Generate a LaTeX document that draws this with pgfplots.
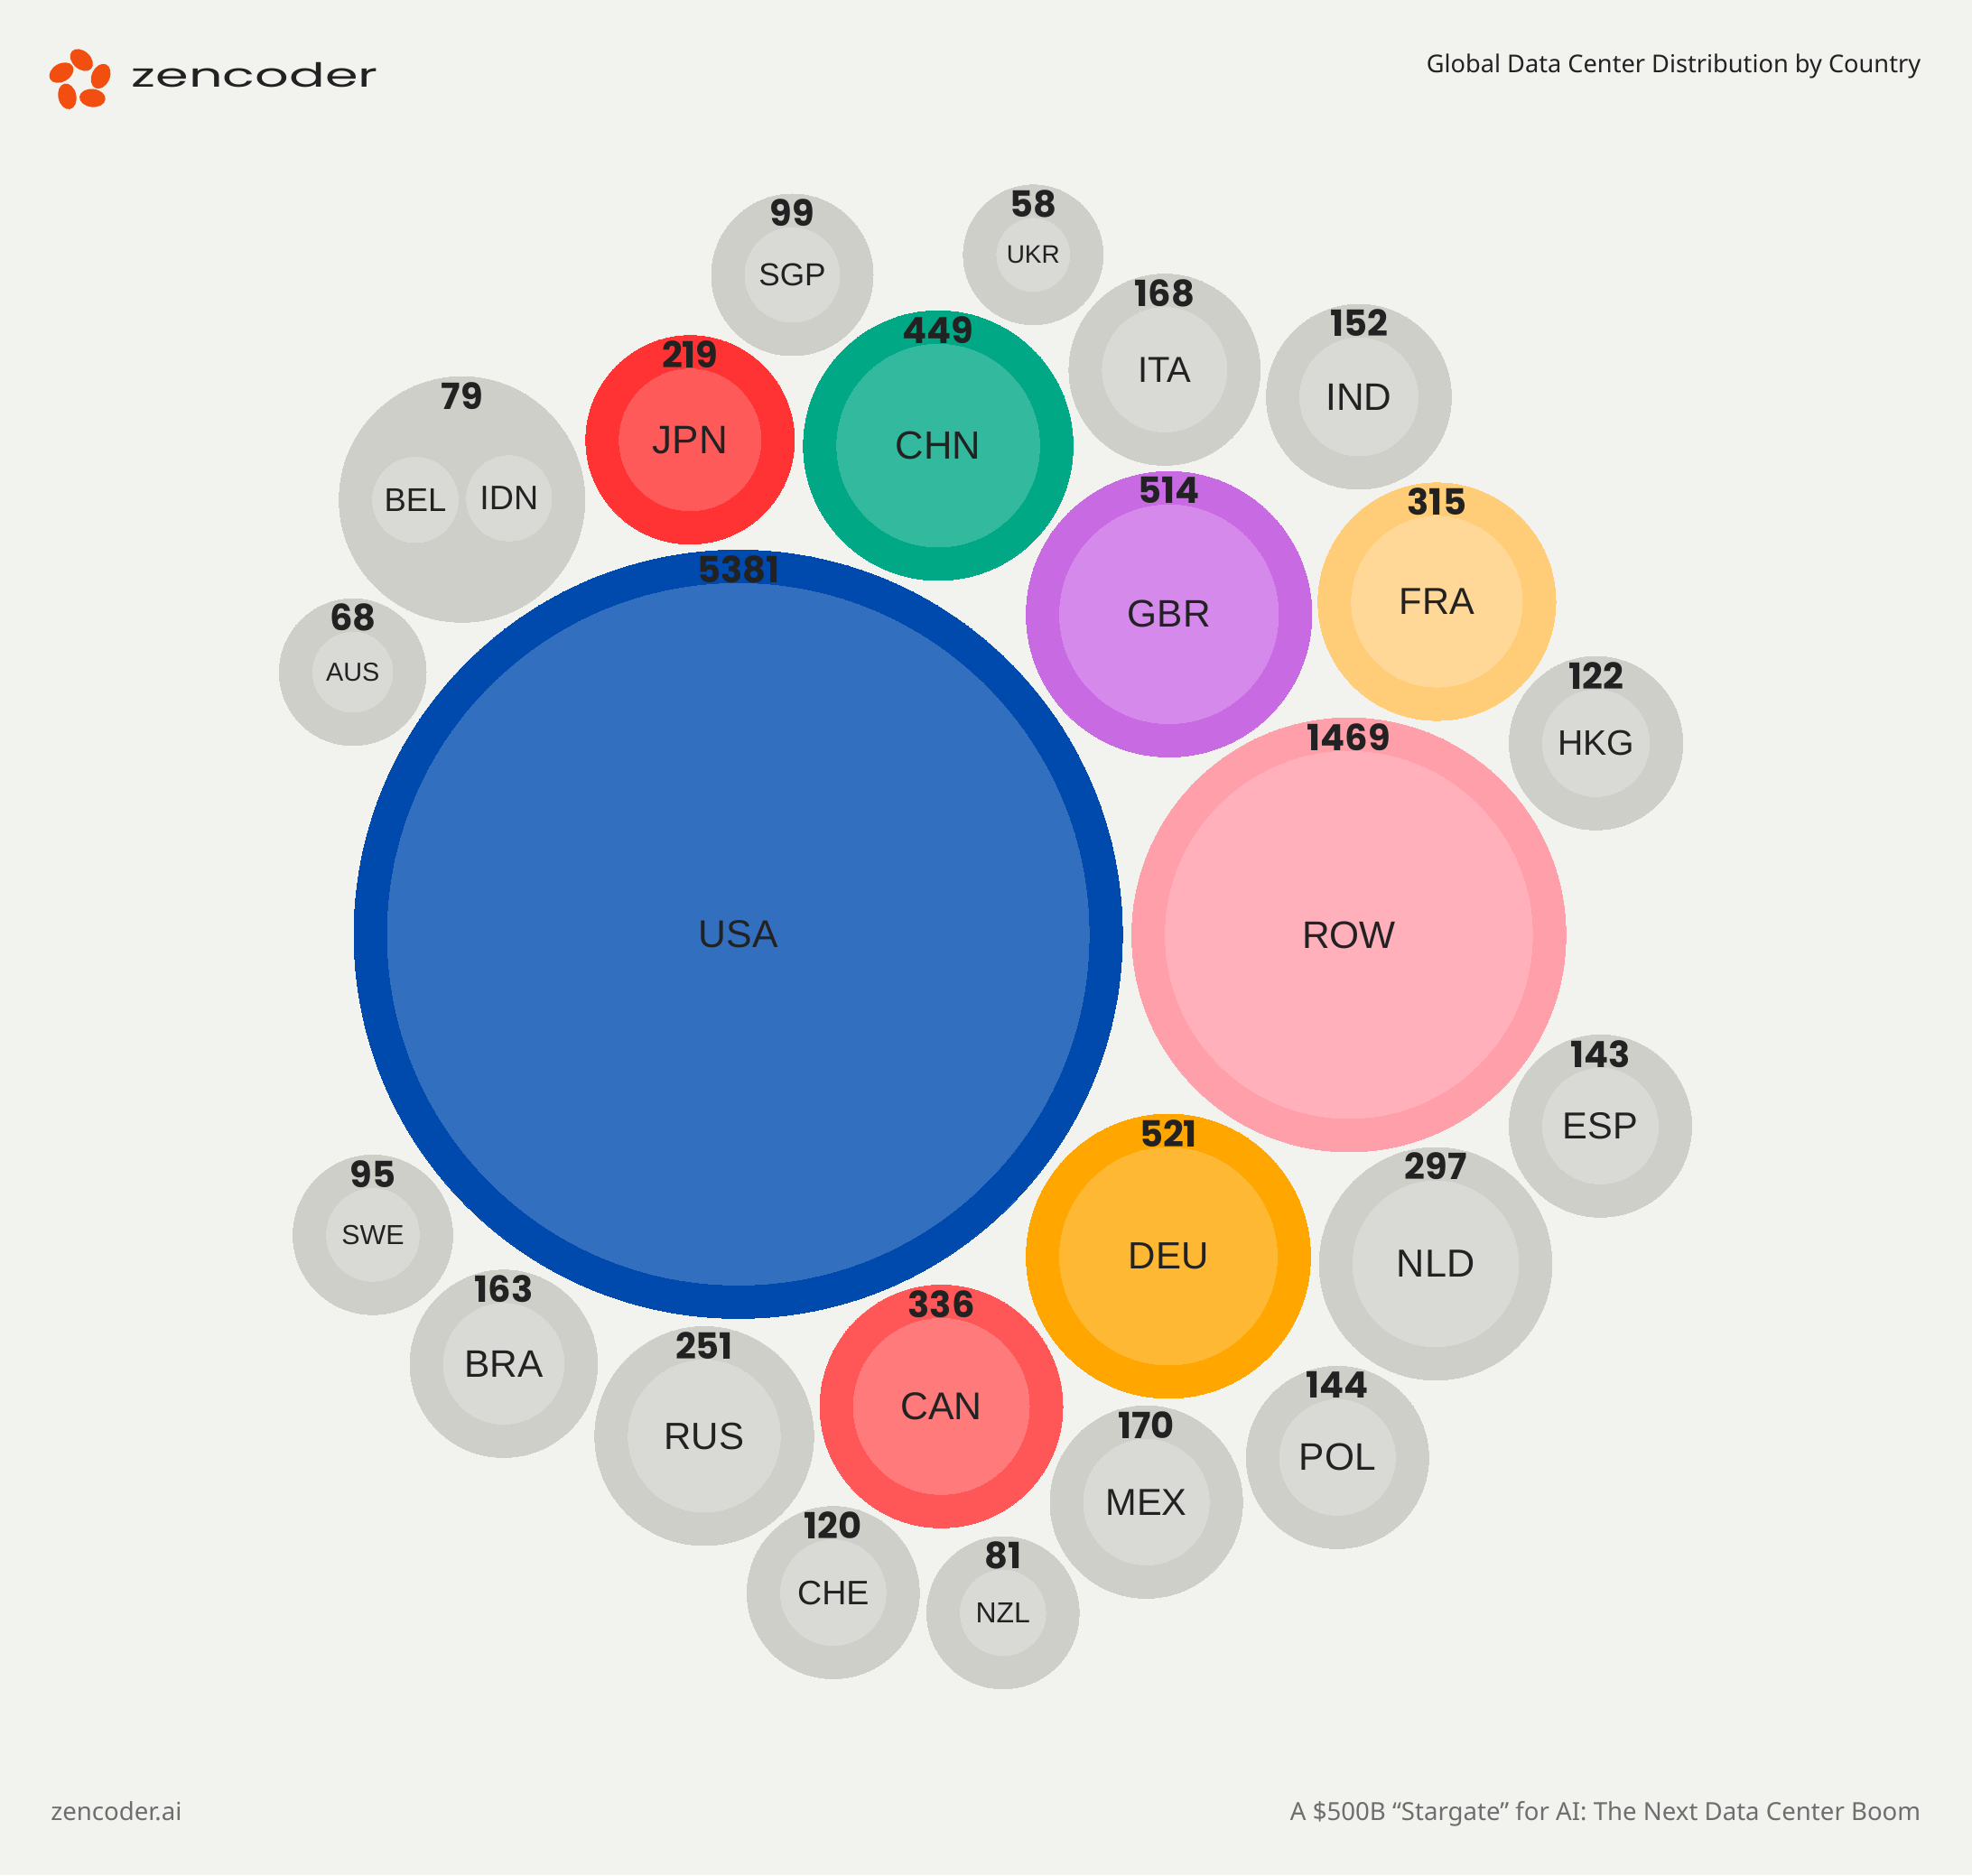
\documentclass[border=0pt]{standalone}
\usepackage{pgfplots}
\pgfplotsset{compat=1.18}
\usepackage{pgfplotstable}
\usepackage{fontspec}
\setmainfont{Noto Sans}
\newfontfamily\labfont{Liberation Sans}
\newfontfamily\numfont{Poppins}
\newfontfamily\logofont{Poppins}

\definecolor{bgc}{HTML}{F2F2EE}
\definecolor{ink}{HTML}{222222}
\definecolor{foot}{HTML}{6E6E6E}
\definecolor{logoc}{HTML}{F24E0F}
\definecolor{greyO}{HTML}{CFCFCA}
\definecolor{greyI}{HTML}{D9D9D5}
\definecolor{usaO}{HTML}{004AAD}
\definecolor{usaI}{HTML}{336FBF}
\definecolor{rowO}{HTML}{FF9FAA}
\definecolor{rowI}{HTML}{FFB0BA}
\definecolor{gbrO}{HTML}{C86BE3}
\definecolor{gbrI}{HTML}{D58AEB}
\definecolor{chnO}{HTML}{00A886}
\definecolor{chnI}{HTML}{33B99D}
\definecolor{jpnO}{HTML}{FF3333}
\definecolor{jpnI}{HTML}{FF5A5A}
\definecolor{fraO}{HTML}{FFCC77}
\definecolor{fraI}{HTML}{FFD898}
\definecolor{deuO}{HTML}{FFA600}
\definecolor{deuI}{HTML}{FFB833}
\definecolor{canO}{HTML}{FF5757}
\definecolor{canI}{HTML}{FF7A7A}

% x, y in pixels from the top-left corner, R = outer radius in pixels,
% fs = size of the country code in pt
\pgfplotstableread{
x      y      R      lab  val  fs
877.5  304.5  89.5   SGP  99   8.8
1144.3 282.3  77.4   UKR  58   7.0
1289.8 409.5  105.9  ITA  168  10.0
1505.0 439.5  102.4  IND  152  10.6
1767.6 823.2  96.1   HKG  122  9.8
1772.5 1247.3 101.0  ESP  143  10.4
1590.0 1399.9 128.8  NLD  297  10.8
1481.3 1614.4 101.0  POL  144  10.6
1269.6 1663.8 106.6  MEX  170  10.4
1110.8 1786.4 84.3   NZL  81   8.0
922.8  1764.1 95.4   CHE  120  9.4
780.0  1590.7 121.2  RUS  251  10.5
557.9  1510.6 103.8  BRA  163  10.6
413.0  1367.8 88.4   SWE  95   7.6
390.7  744.5  81.3   AUS  68   7.2
}\greyset

\pgfplotstableread{
x      y      R      lab  val   fs
817.6  1034.9 425.5  USA  5381  10.7
}\usa
\pgfplotstableread{
x      y      R      lab  val   fs
1493.9 1035.6 240.3  ROW  1469  10.6
}\row
\pgfplotstableread{
x      y      R      lab  val   fs
1294.7 680.4  158.1  GBR  514   10.6
}\gbr
\pgfplotstableread{
x      y      R      lab  val   fs
1039.1 493.6  149.3  CHN  449   10.9
}\chn
\pgfplotstableread{
x      y      R      lab  val   fs
764.3  487.2  115.5  JPN  219   11.0
}\jpn
\pgfplotstableread{
x      y      R      lab  val   fs
1591.4 666.5  131.6  FRA  315   10.4
}\fra
\pgfplotstableread{
x      y      R      lab  val   fs
1294.0 1391.5 157.4  DEU  521   10.5
}\deu
\pgfplotstableread{
x      y      R      lab  val   fs
1042.6 1557.9 134.4  CAN  336   10.7
}\can

% shared circle holding Belgium and Indonesia
\pgfplotstableread{
x      y      R      val
511.7  553.3  136.0  79
}\benelux
\pgfplotstableread{
x      y      R      lab  fs
460.0  553.7  47.3   BEL  9.1
563.8  552.0  47.2   IDN  9.4
}\belidn

\pgfplotsset{
  bubble/.style 2 args={scatter, only marks, mark=*,
    mark options={line width=0pt},
    scatter/use mapped color={draw=#1, fill=#1},
    visualization depends on={(\thisrow{R}-#2)*0.25 \as \rad},
    scatter/@pre marker code/.append style={/tikz/mark size=\rad}},
  names/.style={only marks, mark=none, point meta=explicit symbolic,
    nodes near coords,
    visualization depends on={\thisrow{fs} \as \labsize},
    every node near coord/.append style={anchor=center, inner sep=0pt,
      text=ink, font=\labfont\fontsize{\labsize pt}{\labsize pt}\selectfont}},
  values/.style={only marks, mark=none, point meta=explicit symbolic,
    nodes near coords,
    every node near coord/.append style={anchor=center, inner sep=0pt,
      text=ink, font=\numfont\bfseries\fontsize{10pt}{10pt}\selectfont}},
}

% one country: outer ring, inner disc, code and count
\newcommand\country[3]{%
  \addplot[bubble={#2}{0}] table[x=x, y expr=-\thisrow{y}] {#1};
  \addplot[bubble={#3}{37}] table[x=x, y expr=-\thisrow{y}] {#1};
  \addplot[names] table[x=x, y expr=-\thisrow{y}, meta=lab] {#1};
  \addplot[values] table[x=x, y expr={-\thisrow{y}+\thisrow{R}-21}, meta=val] {#1};
}

% one petal of the logo flower
\newcommand\petal[3]{%
  \fill[logoc, rotate around={#3:(axis cs:#1,#2)}] (axis cs:#1,#2) ellipse (3.6pt and 2.5pt);}

\begin{document}
\begin{tikzpicture}
\begin{axis}[
  width=546pt, height=519.25pt, scale only axis,
  xmin=0, xmax=2184, ymin=-2077, ymax=0,
  axis lines=none, clip=false,
  axis background/.style={fill=bgc},
]
\country{\greyset}{greyO}{greyI}
\country{\usa}{usaO}{usaI}
\country{\row}{rowO}{rowI}
\country{\gbr}{gbrO}{gbrI}
\country{\chn}{chnO}{chnI}
\country{\jpn}{jpnO}{jpnI}
\country{\fra}{fraO}{fraI}
\country{\deu}{deuO}{deuI}
\country{\can}{canO}{canI}

\addplot[bubble={greyO}{0}] table[x=x, y expr=-\thisrow{y}] {\benelux};
\addplot[values] table[x=x, y expr={-\thisrow{y}+\thisrow{R}-21}, meta=val] {\benelux};
\addplot[bubble={greyI}{0}] table[x=x, y expr=-\thisrow{y}] {\belidn};
\addplot[names] table[x=x, y expr=-\thisrow{y}, meta=lab] {\belidn};

% logo
\petal{90.3}{-66.5}{138}
\petal{111.6}{-84.5}{66}
\petal{102.4}{-108.6}{-6}
\petal{74.5}{-106.8}{102}
\petal{68.0}{-80.5}{30}
\node[anchor=base west, inner sep=0pt, text=ink, font=\logofont\fontsize{9.2pt}{9.2pt}\selectfont]
  at (axis cs:145,-96.7) {\scalebox{1.6}[1]{zencoder}};

\node[anchor=base east, inner sep=0pt, text=ink, font=\fontsize{6.8pt}{6.8pt}\selectfont]
  at (axis cs:2128,-80.7) {Global Data Center Distribution by Country};
\node[anchor=base west, inner sep=0pt, text=foot, font=\fontsize{6.9pt}{6.9pt}\selectfont]
  at (axis cs:55.5,-2016.7) {zencoder.ai};
\node[anchor=base east, inner sep=0pt, text=foot, font=\fontsize{6.9pt}{6.9pt}\selectfont]
  at (axis cs:2128,-2016.7) {A \$500B “Stargate” for AI: The Next Data Center Boom};
\end{axis}
\end{tikzpicture}
\end{document}
